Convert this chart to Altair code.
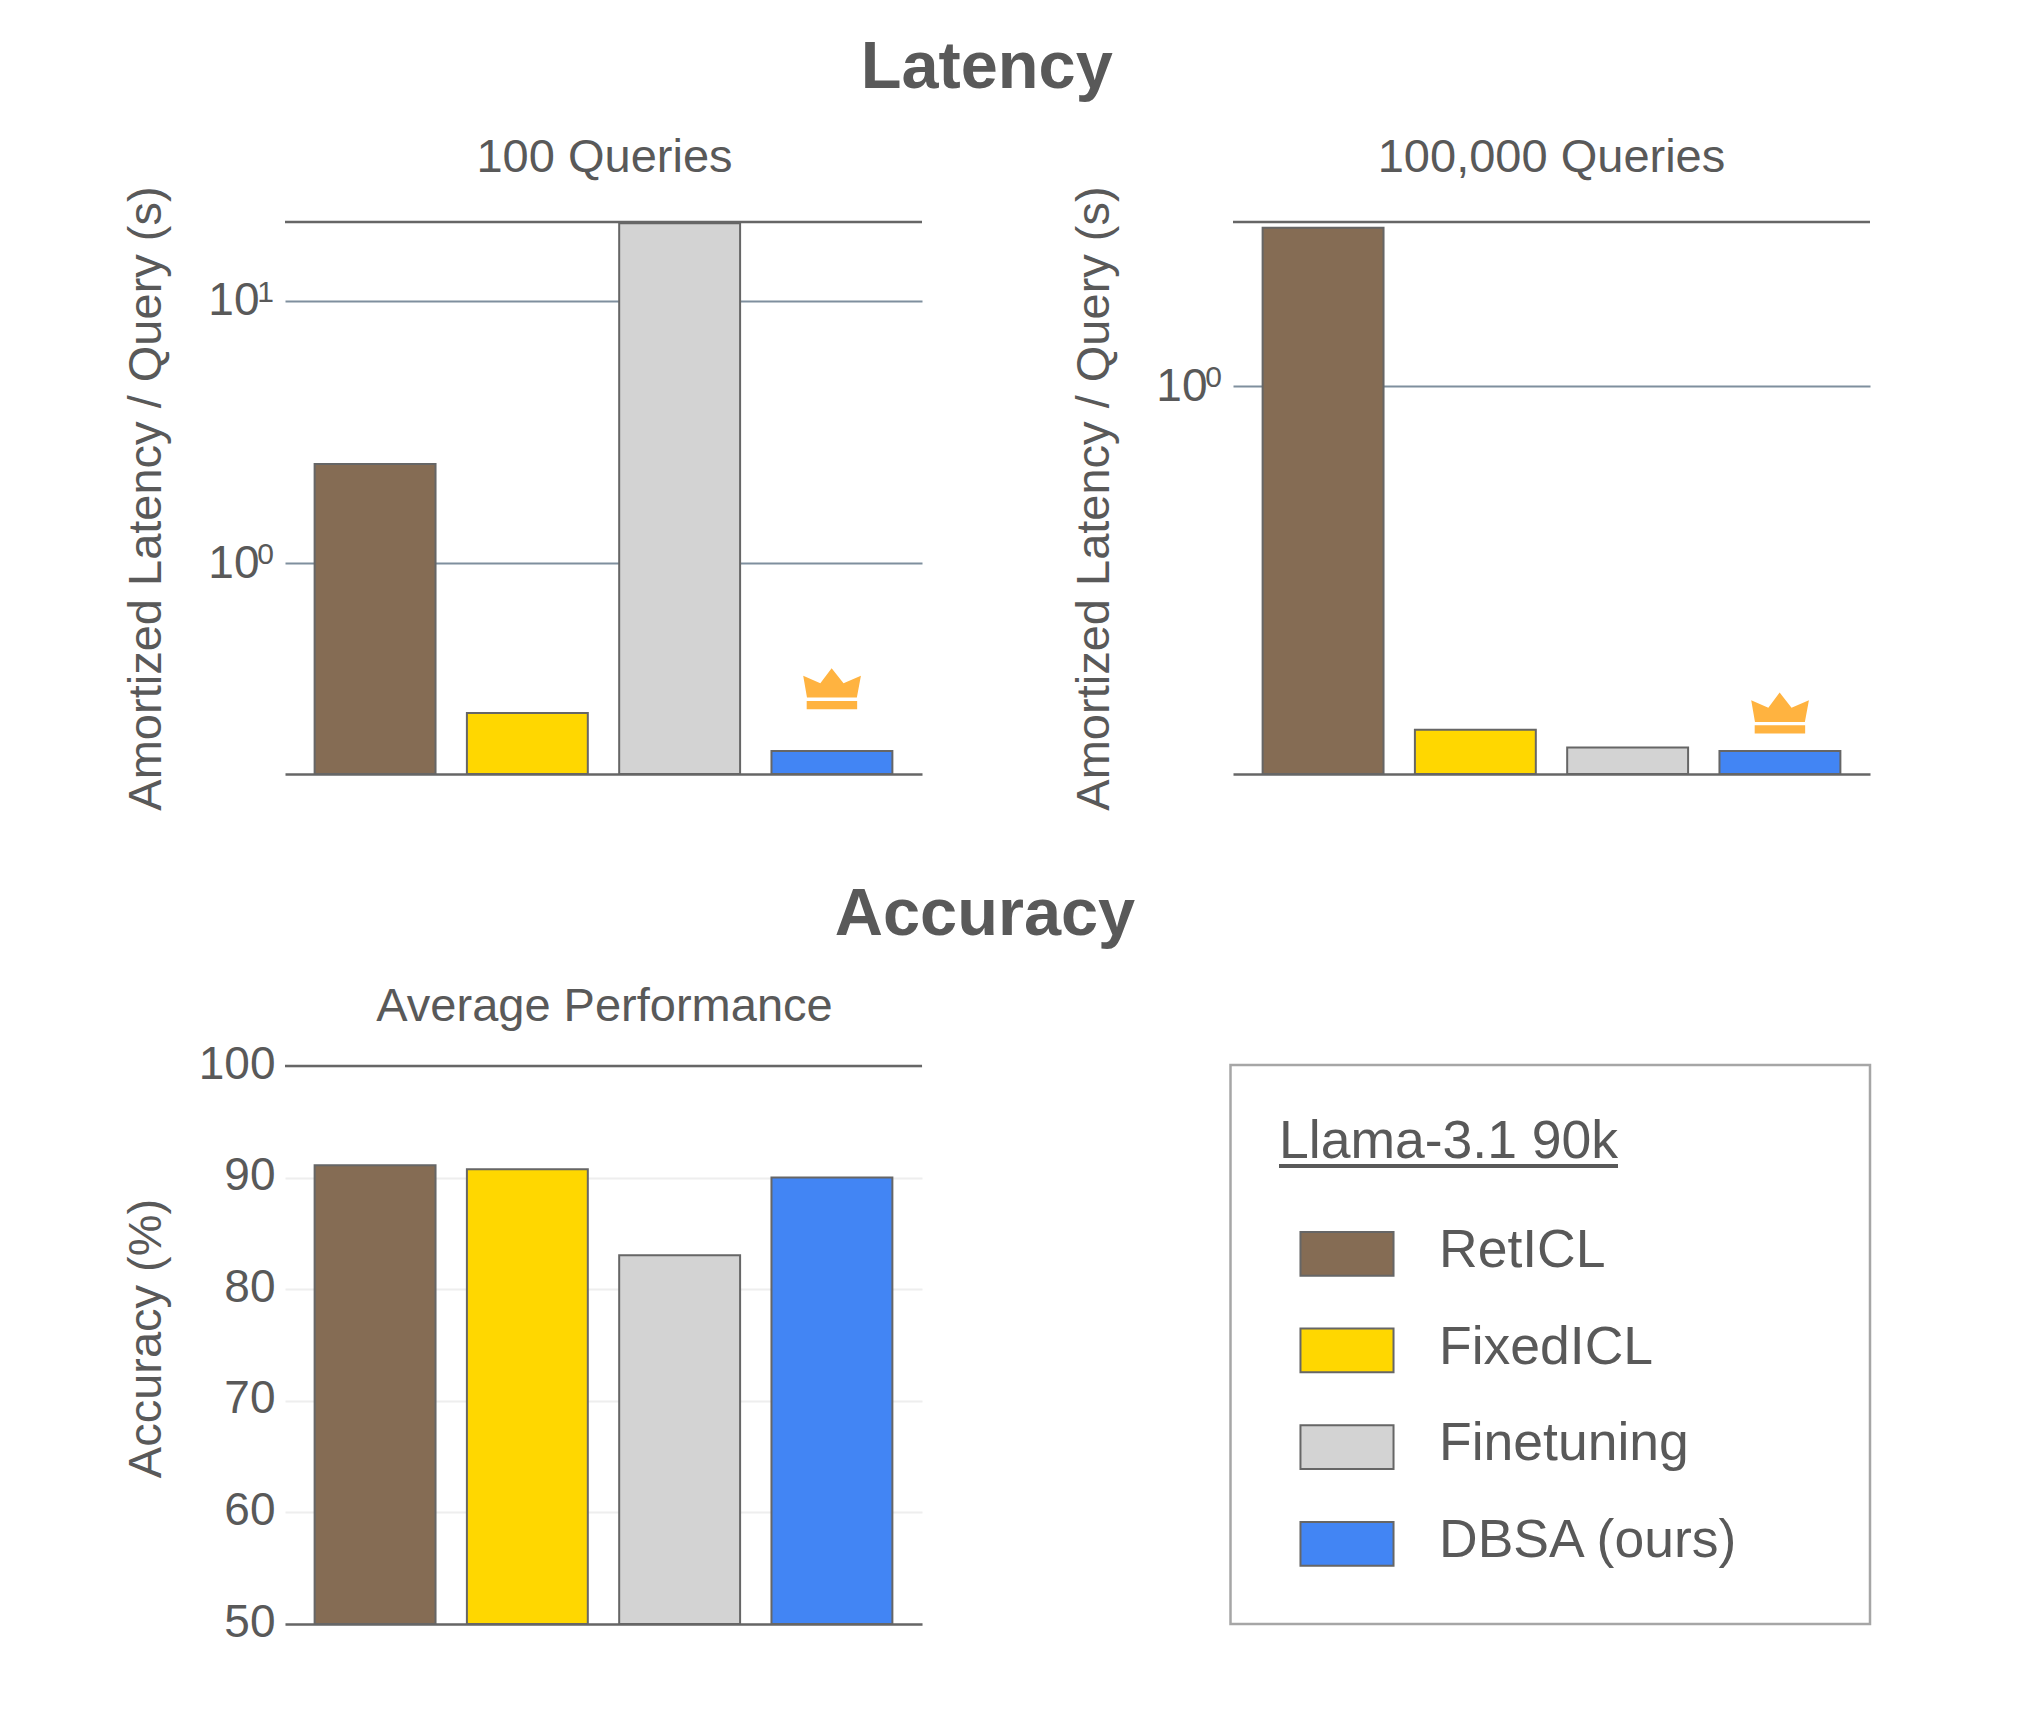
import altair as alt
import pandas as pd

methods = ["RetICL", "FixedICL", "Finetuning", "DBSA (ours)"]
colors = ["#856C54", "#FFD700", "#D3D3D3", "#4285F4"]
latency_100 = [2.39, 0.2685, 19.8, 0.192]
latency_100k = [2.56, 0.13, 0.117, 0.1147]
accuracy = [91.1, 90.75, 83.05, 90.0]

TEXT = "#595959"
EDGE = "#666666"
FONT = "Liberation Sans"
CROWN = "M-0.99,-0.44L-0.40,-0.18L-0.01,-0.70L0.40,-0.18L1,-0.44L0.86,0.31L-0.86,0.31Z M-0.87,0.43L0.87,0.43L0.87,0.71L-0.87,0.71Z"
SWATCH = "M-1,-0.41L1,-0.41L1,0.53L-1,0.53Z"
W = 637

one = pd.DataFrame({"a": [0]})


def x_enc():
    return alt.X(
        "method:N",
        sort=methods,
        scale=alt.Scale(paddingInner=0.206, paddingOuter=0.1945),
        axis=alt.Axis(title=None, labels=False, ticks=False, domainColor=EDGE, domainWidth=2.5),
    )


color_none = alt.Color("method:N", scale=alt.Scale(domain=methods, range=colors), legend=None)


def y_axis(title, values, grid_color, title_y, pad, expr=None, label_offset=0):
    kw = dict(labelExpr=expr) if expr else {}
    return alt.Axis(
        title=title, values=values, domain=False, ticks=False, grid=True,
        gridColor=grid_color, gridWidth=2, labelFontSize=46, labelColor=TEXT,
        labelPadding=pad, labelOffset=label_offset, titleFontSize=47, titleFontWeight="normal",
        titleColor=TEXT, titleX=-125, titleY=title_y, titleBaseline="alphabetic", titleAlign="center",
        **kw,
    )


def top_rule(value, scale, axis):
    return alt.Chart(one).mark_rule(color=EDGE, strokeWidth=2.5).encode(
        y=alt.Y(datum=value, scale=scale, axis=axis)
    )


def heading(text, x, y):
    return alt.Chart(one).mark_text(
        text=text, fontSize=66.7, fontWeight="bold", color=TEXT, align="center", baseline="alphabetic"
    ).encode(x=alt.value(x), y=alt.value(y))


def exponent(power, scale, axis):
    return alt.Chart(one).mark_text(
        text=str(power), fontSize=30, color=TEXT, align="right", baseline="alphabetic", dy=1
    ).encode(x=alt.value(-11), y=alt.Y(datum=10 ** power, scale=scale, axis=axis))


def latency_panel(values, domain, ticks, title, dx, dy, crown_dy, extra=None):
    df = pd.DataFrame({"method": methods, "latency": values})
    scale = alt.Scale(type="log", domain=domain)
    axis = y_axis("Amortized Latency / Query (s)", ticks, "#7F8F9E", 276, 26, "'10'")
    bars = alt.Chart(df).mark_bar(stroke=EDGE, strokeWidth=2).encode(
        x=x_enc(), y=alt.Y("latency:Q", stack=None, scale=scale, axis=axis),
        y2=alt.Y2(datum=domain[0]), color=color_none
    )
    crown = alt.Chart(df[df.method == "DBSA (ours)"]).mark_point(
        shape=CROWN, filled=True, size=3364, color="#FFB340", opacity=1, yOffset=crown_dy
    ).encode(x=x_enc(), y=alt.Y("latency:Q", scale=scale, axis=axis))
    layers = [bars, top_rule(domain[1], scale, axis), crown]
    layers += [exponent({1: 0, 10: 1}[t], scale, axis) for t in ticks]
    if extra is not None:
        layers.append(extra)
    return alt.layer(*layers).properties(
        width=W, height=552,
        title=alt.TitleParams(title, fontSize=47, fontWeight="normal", color=TEXT, baseline="alphabetic",
                              offset=0, dx=dx, dy=dy, anchor="middle"),
    )


p1 = latency_panel(latency_100, [0.157, 20], [1, 10], "100 Queries", 1, 184, -62.5,
                   heading("Latency", 701.7, -133.6))
p2 = latency_panel(latency_100k, [0.1, 2.65], [1], "100,000 Queries", 0, 33, -38)

df3 = pd.DataFrame({"method": methods, "accuracy": accuracy})
legend = alt.Legend(
    title="Llama-3.1 90k", orient="none", legendX=994, legendY=50,
    symbolType=SWATCH, symbolSize=8660, symbolStrokeColor=EDGE, symbolStrokeWidth=2,
    symbolOffset=20, labelFontSize=53.5, labelColor=TEXT, labelOffset=44, labelLimit=600,
    titleFontSize=53.5, titleFontWeight="normal", titleColor=TEXT, titleLimit=600,
    titlePadding=33.5, rowPadding=19.7,
)
scale3 = alt.Scale(domain=[50, 100])
axis3 = y_axis("Accuracy (%)", [50, 60, 70, 80, 90, 100], "#EEEEEE", 272, 10, label_offset=-2)
bars3 = alt.Chart(df3).mark_bar(stroke=EDGE, strokeWidth=2).encode(
    x=x_enc(),
    y=alt.Y("accuracy:Q", stack=None, scale=scale3, axis=axis3),
    color=alt.Color("method:N", sort=methods, scale=alt.Scale(domain=methods, range=colors), legend=legend),
)
p3 = alt.layer(bars3, top_rule(100, scale3, axis3), heading("Accuracy", 700, -131)).properties(
    width=W, height=558,
    title=alt.TitleParams("Average Performance", fontSize=47, fontWeight="normal", color=TEXT,
                          baseline="alphabetic", offset=0, dx=1, dy=186, anchor="middle"),
)

box = alt.Chart(one).mark_rect(fill="white", fillOpacity=0, stroke="#A6A6A6", strokeWidth=2.5).encode(
    x=alt.value(-2.5), x2=alt.value(W), y=alt.value(-1), y2=alt.value(558)
)
underline = alt.Chart(one).mark_rule(color=TEXT, strokeWidth=4).encode(
    x=alt.value(46), x2=alt.value(385), y=alt.value(100)
)
p4 = alt.layer(box, underline).properties(width=W, height=558)

chart = alt.concat(p1, p2, p3, p4, columns=2, spacing={"row": 292, "column": 311}, bounds="flush").properties(
    background="white", padding={"left": 113, "top": 27, "right": 5, "bottom": 5}
).resolve_scale(color="independent").resolve_legend(color="independent").configure(font=FONT).configure_view(stroke=None)

chart.save("out.html", embed_options={"renderer": "svg", "actions": False})
